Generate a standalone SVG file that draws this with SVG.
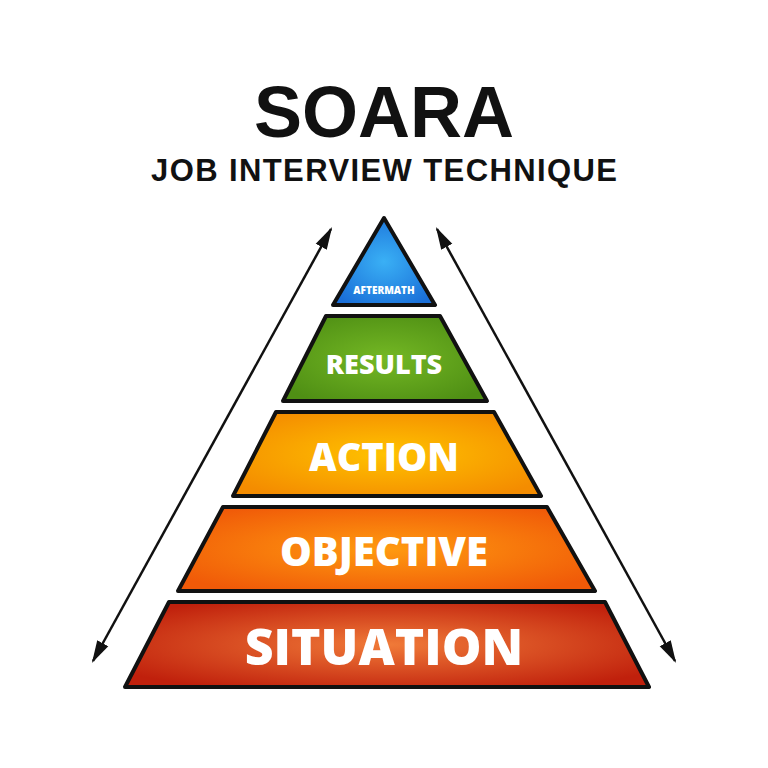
<svg xmlns="http://www.w3.org/2000/svg" width="768" height="768" viewBox="0 0 768 768">
<style>
.lvl{stroke:#111;stroke-width:4;stroke-linejoin:round}
.lbl{font-family:"Open Sans","Liberation Sans",sans-serif;font-weight:800;fill:#fff;text-anchor:middle}
.ttl{font-family:"Liberation Sans",Arial,sans-serif;font-weight:bold;fill:#111;text-anchor:middle}
.arr{stroke:#111;stroke-width:2.5;fill:none;marker-start:url(#ah);marker-end:url(#ah)}
</style>
<defs>
<marker id="ah" viewBox="0 0 10 10" refX="9" refY="5" markerWidth="9" markerHeight="9" orient="auto-start-reverse" markerUnits="strokeWidth">
<path d="M0,2.2 L10,5 L0,7.8 z" fill="#111"/>
</marker>
<radialGradient id="gB" cx="0.5" cy="0.5" r="0.6"><stop offset="0" stop-color="#3ab0f5"/><stop offset="1" stop-color="#1a6fd8"/></radialGradient>
<radialGradient id="gG" cx="0.5" cy="0.5" r="0.6"><stop offset="0" stop-color="#74b824"/><stop offset="1" stop-color="#4f8f14"/></radialGradient>
<radialGradient id="gY" cx="0.5" cy="0.5" r="0.6"><stop offset="0" stop-color="#ffc200"/><stop offset="1" stop-color="#f48c00"/></radialGradient>
<radialGradient id="gO" cx="0.5" cy="0.5" r="0.6"><stop offset="0" stop-color="#ff9a10"/><stop offset="1" stop-color="#f05a08"/></radialGradient>
<radialGradient id="gR" cx="0.5" cy="0.5" r="0.6"><stop offset="0" stop-color="#f07a38"/><stop offset="1" stop-color="#c0200c"/></radialGradient>
</defs>
<rect width="768" height="768" fill="#fff"/>
<g id="title">
<text class="ttl" x="384" y="137" font-size="72">SOARA</text>
<text class="ttl" x="384" y="181" font-size="31" textLength="466" lengthAdjust="spacing">JOB INTERVIEW TECHNIQUE</text>
</g>
<g id="connectors">
<line class="arr" x1="93" y1="661" x2="331" y2="229"/>
<line class="arr" x1="675" y1="661" x2="437" y2="229"/>
</g>
<g id="aftermath">
<path class="lvl" d="M384,218 L435,305 L333,305 Z" fill="url(#gB)"/>
<text class="lbl" x="384" y="294" font-size="10">AFTERMATH</text>
</g>
<g id="results">
<path class="lvl" d="M326,316 L440,316 L487,401 L283,401 Z" fill="url(#gG)"/>
<text class="lbl" x="384" y="374" font-size="27">RESULTS</text>
</g>
<g id="action">
<path class="lvl" d="M276,412 L494,412 L541,496 L233,496 Z" fill="url(#gY)"/>
<text class="lbl" x="384" y="471" font-size="38">ACTION</text>
</g>
<g id="objective">
<path class="lvl" d="M223,507 L547,507 L595,591 L178,591 Z" fill="url(#gO)"/>
<text class="lbl" x="384" y="566" font-size="40">OBJECTIVE</text>
</g>
<g id="situation">
<path class="lvl" d="M169,602 L605,602 L649,687 L125,687 Z" fill="url(#gR)"/>
<text class="lbl" x="384" y="665" font-size="50">SITUATION</text>
</g>
</svg>
